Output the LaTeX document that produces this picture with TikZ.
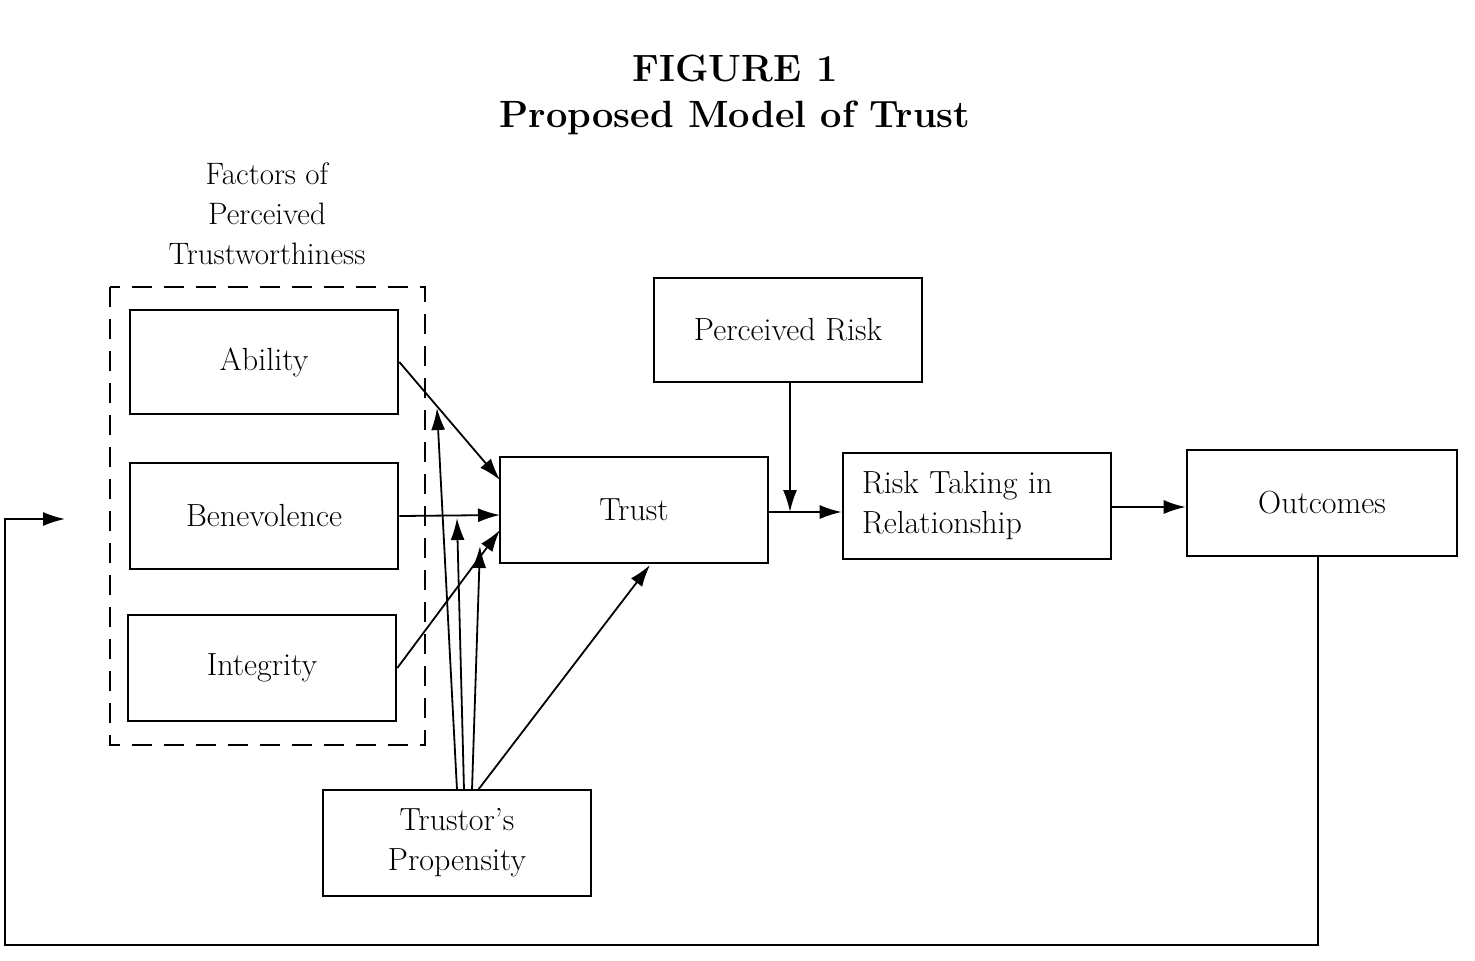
\documentclass[tikz,border=0pt]{standalone}
\usetikzlibrary{arrows.meta}
\begin{document}
\begin{tikzpicture}[x=0.5pt,y=-0.5pt,
  box/.style={draw,line width=1.3pt,inner sep=0pt,font=\fontsize{16}{20}\selectfont,align=center},
  arr/.style={line width=0.9pt,-{Latex[length=11pt,width=7pt]}},
  ln/.style={line width=0.9pt}]
\useasboundingbox (0,0) rectangle (1475,960);
\node[font=\fontsize{19}{22}\selectfont\bfseries] (t1) at (735,68) {FIGURE 1};
\node[font=\fontsize{19}{22}\selectfont\bfseries] (t2) at (735,118) {Proposed Model of Trust};
\node[font=\fontsize{15.5}{20}\selectfont,align=center] (fac) at (267,214) {Factors of\\Perceived\\Trustworthiness};
\draw[dashed,line width=1.3pt,dash pattern=on 10pt off 6pt] (110,287) rectangle (425,745);
\node[box,minimum width=134pt,minimum height=52pt] (ab) at (264,362) {Ability};
\node[box,minimum width=134pt,minimum height=53pt] (be) at (264,516) {Benevolence};
\node[box,minimum width=134pt,minimum height=53pt] (in) at (262,668) {Integrity};
\node[box,minimum width=134pt,minimum height=53pt] (tr) at (634,510) {Trust};
\node[box,minimum width=134pt,minimum height=52pt] (pr) at (788,330) {Perceived Risk};
\node[box,minimum width=134pt,minimum height=53pt,align=left,text width=115pt] (rt) at (977,506) {Risk Taking in\\Relationship};
\node[box,minimum width=135pt,minimum height=53pt] (oc) at (1322,503) {Outcomes};
\node[box,minimum width=134pt,minimum height=53pt] (tp) at (457,843) {Trustor's\\Propensity};
\coordinate (j) at (790,512);
\coordinate (a1) at (437,408);
\coordinate (a2) at (457,518);
\coordinate (a3) at (480,546);
\draw[arr] (ab.east) -- (500,480);
\draw[arr] (be.east) -- (500,515);
\draw[arr] (in.east) -- (500,530);
\draw[arr] (457,790) -- (a1);
\draw[arr] (464,790) -- (a2);
\draw[arr] (472,790) -- (a3);
\draw[arr] (478,790) -- (650,565);
\draw[arr] (tr.east |- j) -- (rt.west |- j);
\draw[arr] (pr.south -| j) -- (j);
\draw[arr] (rt.east |- 0,507) -- (oc.west |- 0,507);
\coordinate (fb) at (65,519);
\draw[arr] (1318,556) -- (1318,945) -- (5,945) -- (5,519) -- (fb);
\end{tikzpicture}
\end{document}
